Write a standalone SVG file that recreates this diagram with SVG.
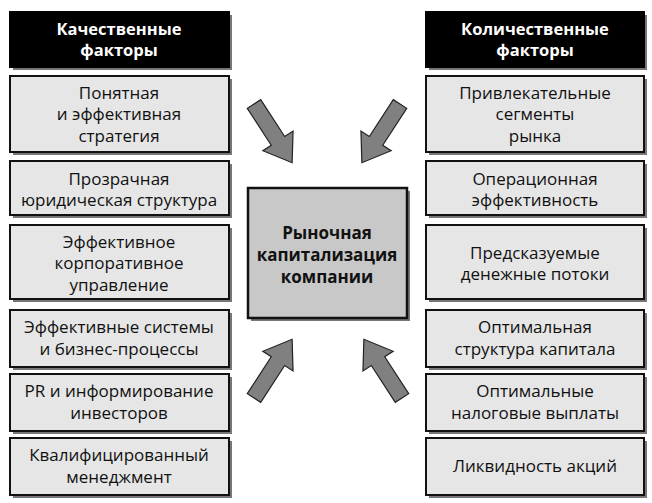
<svg xmlns="http://www.w3.org/2000/svg" width="652" height="503" viewBox="0 0 652 503">
<style>
.sh{fill:#777}
.bx{fill:#e6e6e6;stroke:#111;stroke-width:2}
.hd{fill:#000;stroke:#000;stroke-width:2}
.ct{fill:#c8c8c8;stroke:#111;stroke-width:2.5}
text{font-family:"Open Sans","DejaVu Sans",sans-serif;font-size:17px;fill:#111;text-anchor:middle}
.w{fill:#fff;font-weight:bold;font-size:16.5px}
.b{font-weight:bold}
.ar{fill:#808080;stroke:#222;stroke-width:1.2}
</style>
<defs>
<polygon id="arr" points="0,-8 44,-8 44,-18 70,0 44,18 44,8 0,8"/>
</defs>
<rect x="0" y="0" width="652" height="503" fill="#fff"/>
<g id="hdl"><rect class="sh" x="13" y="15" width="219" height="55"/><rect class="hd" x="10" y="12" width="219" height="55"/><text class="w" x="119" y="35">Качественные</text><text class="w" x="119" y="56">факторы</text></g>
<g id="hdr"><rect class="sh" x="429" y="15" width="218" height="55"/><rect class="hd" x="426" y="12" width="218" height="55"/><text class="w" x="535" y="35">Количественные</text><text class="w" x="535" y="56">факторы</text></g>
<g id="l1"><rect class="sh" x="13" y="79" width="219" height="76"/><rect class="bx" x="10" y="76" width="219" height="76"/><text x="119" y="99">Понятная</text><text x="119" y="120">и эффективная</text><text x="119" y="142">стратегия</text></g>
<g id="l2"><rect class="sh" x="13" y="164" width="219" height="54"/><rect class="bx" x="10" y="161" width="219" height="54"/><text x="119" y="185">Прозрачная</text><text x="119" y="206">юридическая структура</text></g>
<g id="l3"><rect class="sh" x="13" y="228" width="219" height="74"/><rect class="bx" x="10" y="225" width="219" height="74"/><text x="119" y="248">Эффективное</text><text x="119" y="269">корпоративное</text><text x="119" y="291">управление</text></g>
<g id="l4"><rect class="sh" x="13" y="313" width="219" height="57"/><rect class="bx" x="10" y="310" width="219" height="57"/><text x="119" y="333">Эффективные системы</text><text x="119" y="355">и бизнес-процессы</text></g>
<g id="l5"><rect class="sh" x="13" y="377" width="219" height="57"/><rect class="bx" x="10" y="374" width="219" height="57"/><text x="119" y="397">PR и информирование</text><text x="119" y="419">инвесторов</text></g>
<g id="l6"><rect class="sh" x="13" y="441" width="219" height="57"/><rect class="bx" x="10" y="438" width="219" height="57"/><text x="119" y="461">Квалифицированный</text><text x="119" y="483">менеджмент</text></g>
<g id="r1"><rect class="sh" x="429" y="79" width="218" height="76"/><rect class="bx" x="426" y="76" width="218" height="76"/><text x="535" y="99">Привлекательные</text><text x="535" y="120">сегменты</text><text x="535" y="142">рынка</text></g>
<g id="r2"><rect class="sh" x="429" y="164" width="218" height="54"/><rect class="bx" x="426" y="161" width="218" height="54"/><text x="535" y="185">Операционная</text><text x="535" y="206">эффективность</text></g>
<g id="r3"><rect class="sh" x="429" y="228" width="218" height="74"/><rect class="bx" x="426" y="225" width="218" height="74"/><text x="535" y="259">Предсказуемые</text><text x="535" y="280">денежные потоки</text></g>
<g id="r4"><rect class="sh" x="429" y="313" width="218" height="57"/><rect class="bx" x="426" y="310" width="218" height="57"/><text x="535" y="333">Оптимальная</text><text x="535" y="355">структура капитала</text></g>
<g id="r5"><rect class="sh" x="429" y="377" width="218" height="57"/><rect class="bx" x="426" y="374" width="218" height="57"/><text x="535" y="397">Оптимальные</text><text x="535" y="419">налоговые выплаты</text></g>
<g id="r6"><rect class="sh" x="429" y="441" width="218" height="57"/><rect class="bx" x="426" y="438" width="218" height="57"/><text x="535" y="472">Ликвидность акций</text></g>
<g id="center"><rect class="sh" x="251" y="191" width="159" height="130"/><rect class="ct" x="248" y="188" width="159" height="130"/><text class="b" x="327" y="239">Рыночная</text><text class="b" x="327" y="261">капитализация</text><text class="b" x="327" y="283">компании</text></g>
<g id="connectors">
<use href="#arr" class="ar" transform="translate(254,104) rotate(57)"/>
<use href="#arr" class="ar" transform="translate(400,104) rotate(123)"/>
<use href="#arr" class="ar" transform="translate(254,398) rotate(-57)"/>
<use href="#arr" class="ar" transform="translate(402,398) rotate(-123)"/>
</g>
</svg>
